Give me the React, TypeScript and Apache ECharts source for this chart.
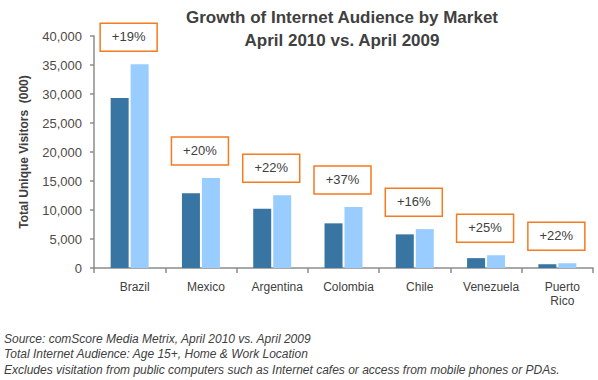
import React, { useEffect, useRef } from "react";
import * as echarts from "echarts";

const categories = ["Brazil", "Mexico", "Argentina", "Colombia", "Chile", "Venezuela", "Puerto\nRico"];
const april2009 = [29300, 12900, 10200, 7700, 5800, 1700, 650];
const april2010 = [35150, 15500, 12550, 10500, 6700, 2200, 820];
const growthLabels = ["+19%", "+20%", "+22%", "+37%", "+16%", "+25%", "+22%"];
const yTicks = { min: 0, max: 40000, interval: 5000 };
const footnotes = [
  "Source: comScore Media Metrix, April 2010 vs. April 2009",
  "Total Internet Audience: Age 15+, Home & Work Location",
  "Excludes visitation from public computers such as Internet cafes or access from mobile phones or PDAs.",
];

const FONT = "'Liberation Sans', Arial, sans-serif";
const TEXT = "#404040";

export default function App() {
  const ref = useRef<HTMLDivElement>(null);
  useEffect(() => {
    if (!ref.current) return;
    const chart = echarts.init(ref.current, null, { renderer: "svg" });
    chart.setOption({
      animation: false,
      backgroundColor: "#ffffff",
      textStyle: { fontFamily: FONT },
      grid: { left: 94, right: 5, top: 36, bottom: 112, containLabel: false },
      xAxis: {
        type: "category",
        data: categories,
        axisLine: { lineStyle: { color: "#8c8c8c", width: 1.5 } },
        axisTick: { show: true, length: 5, lineStyle: { color: "#8c8c8c", width: 1.5 } },
        axisLabel: {
          color: TEXT,
          fontSize: 12,
          fontFamily: FONT,
          margin: 12,
          lineHeight: 14,
          interval: 0,
          padding: [0, 0, 0, 10],
        },
      },
      yAxis: {
        type: "value",
        min: yTicks.min,
        max: yTicks.max,
        interval: yTicks.interval,
        name: "Total Unique Visitors  (000)",
        nameLocation: "middle",
        nameRotate: 90,
        nameGap: 64,
        nameTextStyle: { color: TEXT, fontSize: 12, fontWeight: "bold", fontFamily: FONT },
        splitLine: { show: false },
        axisLine: { show: true, lineStyle: { color: "#8c8c8c", width: 1.5 } },
        axisTick: { show: true, inside: false, length: 4, lineStyle: { color: "#8c8c8c", width: 1.5 } },
        axisLabel: {
          color: "#4f4a48",
          fontSize: 13,
          fontFamily: FONT,
          margin: 12,
          formatter: (v: number) => v.toLocaleString("en-US"),
        },
      },
      series: [
        {
          type: "bar",
          name: "April 2009",
          data: april2009,
          barWidth: 18,
          barGap: "11%",
          itemStyle: { color: "#3875a2" },
        },
        {
          type: "bar",
          name: "April 2010",
          data: april2010,
          barWidth: 18,
          itemStyle: { color: "#99ccff" },
        },
        {
          type: "custom",
          name: "growth",
          data: april2010.map((v, i) => [i, v]),
          z: 10,
          renderItem: (params: any, api: any) => {
            const pt = api.coord([api.value(0), api.value(1)]);
            const w = 57;
            const h = 28;
            const x = pt[0] - w / 2 - 1;
            const y = pt[1] - 13 - h;
            return {
              type: "group",
              children: [
                {
                  type: "rect",
                  shape: { x, y, width: w, height: h },
                  style: { fill: "#ffffff", stroke: "#f47b20", lineWidth: 1.5 },
                },
                {
                  type: "text",
                  style: {
                    x: x + w / 2,
                    y: y + h / 2 - 1,
                    text: growthLabels[params.dataIndex],
                    align: "center",
                    verticalAlign: "middle",
                    fill: TEXT,
                    fontSize: 13,
                    fontFamily: FONT,
                  },
                },
              ],
            };
          },
        },
      ],
      graphic: [
        {
          type: "text",
          style: {
            x: 342,
            y: 17,
            text: "Growth of Internet Audience by Market",
            align: "center",
            verticalAlign: "middle",
            fill: TEXT,
            fontSize: 17,
            fontWeight: "bold",
            fontFamily: FONT,
          },
        },
        {
          type: "text",
          style: {
            x: 342,
            y: 40,
            text: "April 2010 vs. April 2009",
            align: "center",
            verticalAlign: "middle",
            fill: TEXT,
            fontSize: 17,
            fontWeight: "bold",
            fontFamily: FONT,
          },
        },
        ...footnotes.map((t, i) => ({
          type: "text",
          style: {
            x: 4,
            y: 339 + i * 15.3,
            text: t,
            align: "left",
            verticalAlign: "middle",
            fill: TEXT,
            fontSize: 12,
            fontStyle: "italic",
            fontFamily: FONT,
          },
        })),
      ],
    });
    return () => chart.dispose();
  }, []);
  return (
    <div
      ref={ref}
      style={{ position: "absolute", left: 0, top: 0, width: 598, height: 380 }}
    />
  );
}
